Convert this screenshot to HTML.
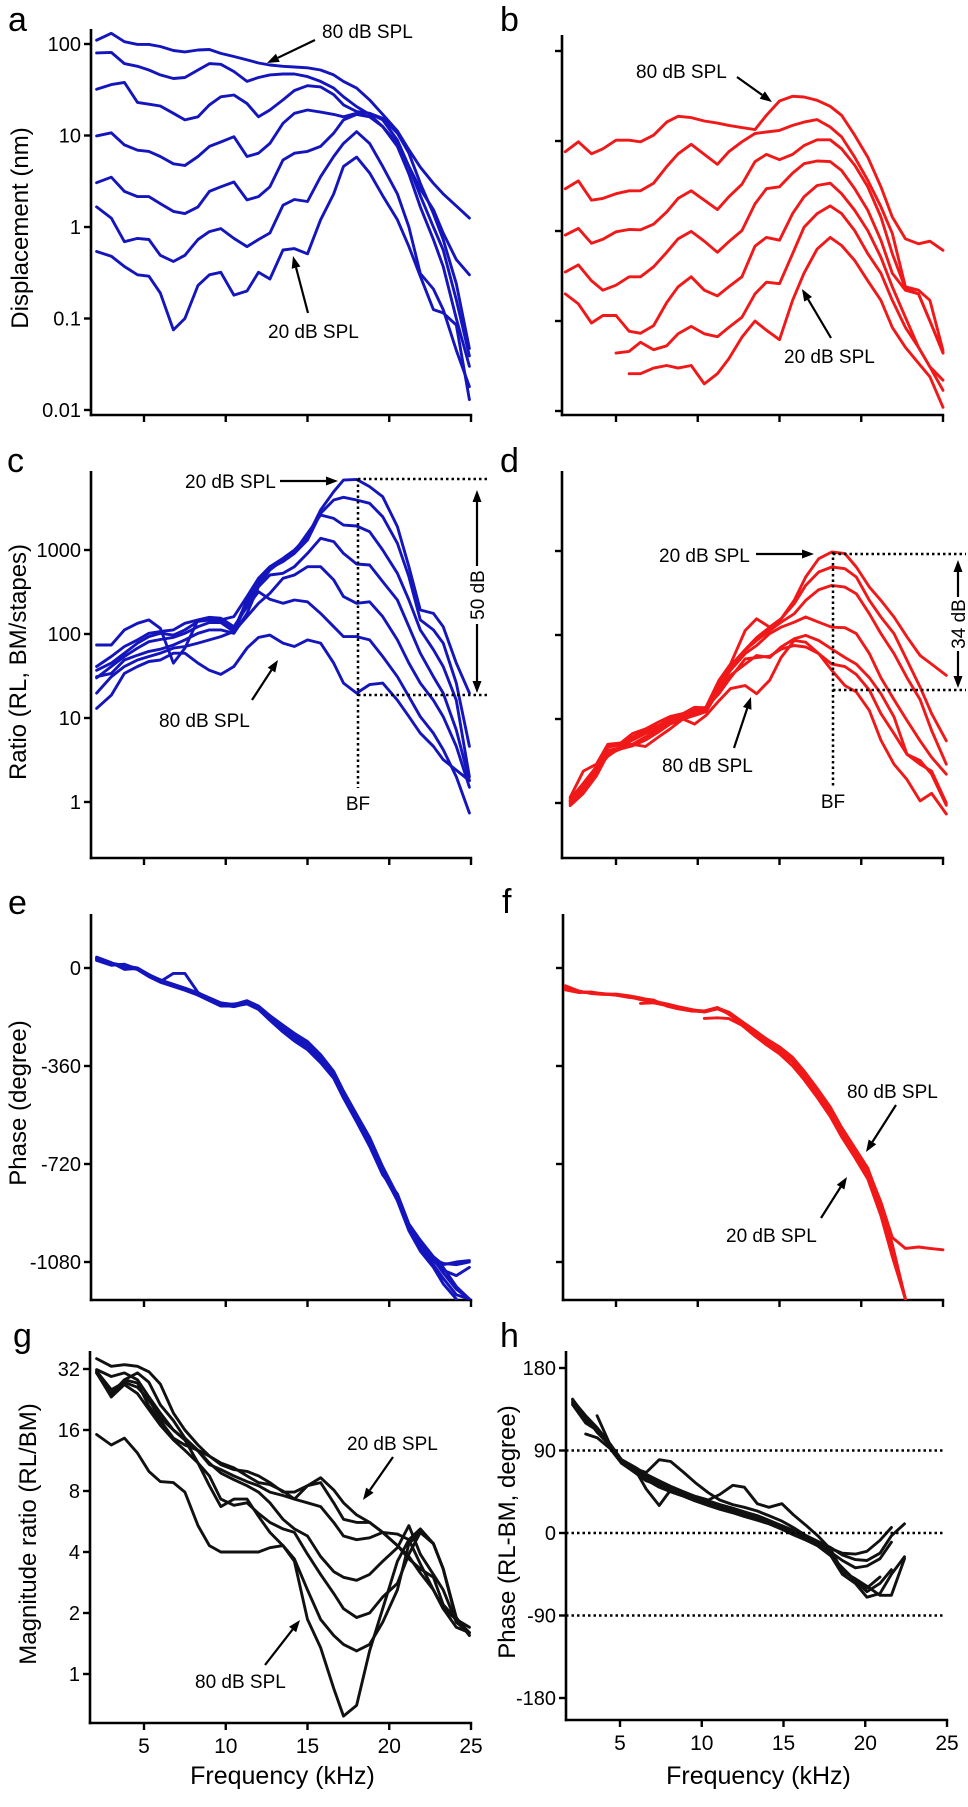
<!DOCTYPE html>
<html><head><meta charset="utf-8"><title>RL and BM responses</title>
<style>
html,body{margin:0;padding:0;background:#fff;}
svg{display:block;font-family:"Liberation Sans",Arial,sans-serif;}
</style></head>
<body>
<svg id="chart" width="968" height="1807" viewBox="0 0 968 1807" xmlns="http://www.w3.org/2000/svg">
<defs>
<clipPath id="clipA"><rect x="91" y="20" width="390" height="397"/></clipPath>
<clipPath id="clipB"><rect x="562" y="20" width="390" height="397"/></clipPath>
<clipPath id="clipC"><rect x="91" y="460" width="390" height="400"/></clipPath>
<clipPath id="clipD"><rect x="562" y="460" width="390" height="400"/></clipPath>
<clipPath id="clipE"><rect x="91" y="905" width="390" height="395"/></clipPath>
<clipPath id="clipF"><rect x="563" y="905" width="390" height="395"/></clipPath>
<clipPath id="clipG"><rect x="90" y="1340" width="390" height="383"/></clipPath>
<clipPath id="clipH"><rect x="566" y="1340" width="390" height="380"/></clipPath>
</defs>
</svg>
<script>
// ---------- data ----------
const freqA = [2.1,3.0,3.8,4.6,5.3,6.0,6.8,7.5,8.3,9.0,9.7,10.5,11.3,12.0,12.7,13.5,14.2,15.0,15.8,16.6,17.2,18.0,18.8,19.6,20.5,21.2,21.9,22.7,23.3,24.1,24.9];
const freqB = [1.9,2.7,3.5,4.2,5.0,5.8,6.5,7.3,8.1,8.8,9.6,10.4,11.2,11.9,12.7,13.5,14.2,15.0,15.8,16.5,17.3,18.1,18.8,19.6,20.4,21.2,21.9,22.7,23.5,24.2,25.0];
const freqD = [2.2,3.0,3.8,4.5,5.3,6.0,6.8,7.6,8.3,9.1,9.8,10.5,11.3,12.0,12.9,13.6,14.4,15.1,15.9,16.6,17.4,18.2,19.0,19.7,20.5,21.2,22.0,22.8,23.6,24.3,25.2];
const freqH = [2.1,2.9,3.6,4.4,5.1,5.9,6.6,7.4,8.1,8.9,9.6,10.4,11.1,11.9,12.6,13.4,14.1,14.9,15.6,16.4,17.1,17.9,18.6,19.4,20.1,20.9,21.6,22.4];
const xTicks = [5,10,15,20,25];
const xTickLabels = ["5","10","15","20","25"];

// a: displacement (nm), 80 dB -> 20 dB
const dispBlue80 = [110,131,106,99,99,94,85,82,86,87,79,73,67,62,59,57,56,55,52,46,39,33,24.5,17,11.2,7,4.5,3,2.3,1.7,1.25];
const dispBlue70 = [80,81,61,57,52,46,42,43,52,61,60,50,39,43,46,47,47,44,39,33,26.5,20.7,17,12.5,8.2,4.6,2.6,1.55,0.86,0.44,0.30];
const dispBlue60 = [32,36,38,23,22,21,17.5,14.8,16,21.6,26.5,27.7,22.4,16,19,24.5,31,35,34,28,21.6,18.3,17.5,15.4,10.6,6.4,3.0,1.4,0.73,0.24,0.047];
const dispBlue50 = [9.9,10.7,7.9,6.9,6.7,5.9,4.9,4.7,5.9,7.6,8.5,9.7,5.9,6.4,8.2,13.6,17.5,19,18,17,16,17.5,17.5,14.8,8.9,4.6,2.2,1.0,0.56,0.16,0.039];
const dispBlue40 = [3.05,3.5,2.45,2.15,2.15,1.8,1.48,1.4,1.66,2.45,2.75,3.1,1.98,2.15,2.75,5.4,6.4,6.7,7.6,10.6,14.8,17,16,12.5,7.6,3.8,1.66,0.73,0.37,0.10,0.030];
const dispBlue30 = [1.66,1.25,0.69,0.75,0.73,0.49,0.42,0.49,0.73,0.89,0.96,0.75,0.61,0.73,0.86,1.73,2.0,1.9,3.55,5.9,8.2,11,8.2,4.6,2.3,1.0,0.31,0.21,0.125,0.045,0.018];
const dispBlue20 = [0.54,0.48,0.37,0.30,0.29,0.19,0.075,0.10,0.23,0.30,0.32,0.18,0.20,0.32,0.27,0.56,0.58,0.51,1.2,2.3,4.6,5.8,3.9,2.2,1.2,0.61,0.29,0.125,0.115,0.085,0.013];

// b
const dispRed80 = [7.6,9.8,7.2,8.2,10.2,10.2,9.8,11.6,16.2,18.8,18.2,16.7,15.8,14.9,14.1,13.4,19.3,27.8,31.4,30.8,28.3,24.3,19.3,11.6,6.6,3.1,1.43,0.82,0.72,0.77,0.61];
const dispRed70 = [2.95,3.6,2.2,2.3,2.6,2.8,2.8,3.4,5.2,7.2,9.2,7.1,5.5,7.6,9.8,12.1,12.6,13.1,14.9,16.2,17.3,14.3,11.1,6.6,3.65,1.86,0.94,0.24,0.22,0.17,0.047];
const dispRed60 = [0.90,1.07,0.73,0.81,0.98,1.04,1.03,1.19,1.63,2.3,2.8,2.2,1.73,2.4,3.3,5.9,7.1,6.2,7.1,8.9,10.3,10.3,8.2,5.4,3.1,1.43,0.56,0.23,0.2,0.10,0.045];
const dispRed50 = [0.35,0.42,0.28,0.22,0.25,0.31,0.31,0.40,0.58,0.82,0.99,0.77,0.58,0.76,1.01,2.0,2.95,3.1,4.4,5.6,6.0,5.9,4.7,2.95,1.7,0.79,0.34,0.22,0.2,0.10,0.044];
const dispRed40 = [0.2,0.155,0.095,0.115,0.115,0.077,0.073,0.089,0.16,0.24,0.31,0.22,0.19,0.24,0.31,0.68,0.85,0.79,1.56,2.4,3.2,3.4,2.6,1.7,1.01,0.51,0.24,0.11,0.051,0.031,0.022];
const dispRed30 = [null,null,null,null,0.044,0.046,0.058,0.048,0.053,0.072,0.087,0.072,0.067,0.085,0.11,0.2,0.27,0.26,0.56,1.1,1.56,1.9,1.56,1.01,0.56,0.34,0.17,0.085,0.051,0.031,0.017];
const dispRed20 = [null,null,null,null,null,0.026,0.026,0.030,0.032,0.030,0.032,0.020,0.026,0.038,0.066,0.10,0.079,0.062,0.17,0.34,0.63,0.85,0.69,0.47,0.28,0.17,0.085,0.051,0.034,0.024,0.011];

// c: ratio RL/stapes, 20 dB -> 80 dB
const ratioBlue20 = [41,54,71,85,102,107,112,134,147,154,147,161,279,460,633,796,1000,1440,2990,4950,6800,6930,5680,4310,1900,633,193,176,122,45,19.8];
const ratioBlue30 = [37,45,59,78,93,102,97,112,141,147,141,112,254,420,605,727,912,1315,2730,3940,4240,3940,3600,2490,1200,481,147,112,78,26,4.6];
const ratioBlue40 = [30,41,54,68,81,86,91,102,122,137,137,107,232,383,578,760,955,1580,2610,2380,1980,1930,1650,1000,528,254,112,65,41,16.3,2.0];
const ratioBlue50 = [31,34,49,56,62,66,74,85,102,112,112,102,176,366,504,528,633,912,1380,1260,912,681,663,420,254,122,59,31,19.8,7.2,1.8];
const ratioBlue60 = [19.8,31,41,49,54,59,68,71,78,85,93,107,161,232,305,460,504,633,633,440,279,232,242,161,85,45,26,16.3,10.4,4.6,1.5];
const ratioBlue70 = [74,74,112,134,147,117,45,68,147,158,154,122,211,319,259,232,254,242,176,122,93,93,85,54,31,18,10.4,6.6,4.2,2.0,0.74];
const ratioBlue80 = [13,18.7,34,41,47,49,59,59,45,37,33,41,68,91,97,78,71,85,78,45,26,19.8,25,26,16.3,10.4,6.6,4.6,3.2,2.4,1.8];

// d
const ratioRed20 = [1.12,1.71,2.7,3.8,4.8,6.1,7.3,8.4,10.0,11.6,12.7,13.8,29,45,113,156,124,156,258,490,810,973,930,645,372,258,164,95,57,45,33];
const ratioRed30 = [1.06,1.55,2.5,3.6,4.6,5.8,7.0,8.2,9.8,11.3,12.4,13.6,27.5,43,67,93,124,156,236,390,562,645,615,490,258,164,104,50,24,11.6,5.5];
const ratioRed40 = [1.03,1.5,2.6,4.6,5.0,5.6,6.7,7.6,9.4,11.0,12.0,13.2,26,42,66,86,113,142,179,258,345,390,372,310,179,104,60,31,17,7.3,2.9];
const ratioRed50 = [0.98,1.4,2.2,4.2,4.6,5.0,6.1,7.3,9.2,10.6,11.6,12.6,24,38,60,75,104,124,142,164,142,124,122,104,60,31,17,9.6,5.5,3.5,2.2];
const ratioRed60 = [0.93,1.3,2.1,3.8,4.4,4.8,5.6,7.0,8.7,10,11,12.2,22,33,45,57,54,72,90,99,86,68,54,45,31,20,10.6,3.8,3.2,2.2,0.94];
const ratioRed70 = [1.17,2.4,2.9,5.0,5.2,6.7,7.6,9.2,10.7,11.6,13.8,13.6,20,31,52,54,56,68,75,72,60,45,42,34,22,11.6,6.7,3.8,2.9,2.4,1.0];
const ratioRed80 = [1.06,1.71,2.7,4.6,5.2,5.0,4.7,6.1,7.6,10,8.7,11,16.5,23,25,20,29,54,86,82,60,38,25,21,12.6,5.6,2.9,1.9,1.06,1.3,0.74];

// e: phase (deg)
const phaseBlue1 = [34,16,10,-2,-27,-45,-63,-76,-94,-112,-131,-137,-124,-143,-179,-216,-247,-277,-326,-387,-460,-546,-631,-741,-838,-950,-1000,-1060,-1090,-1080,-1075];
const phaseBlue2 = [28,10,14,-4,-25,-48,-66,-80,-98,-118,-138,-132,-128,-150,-185,-222,-255,-285,-333,-392,-468,-552,-640,-748,-845,-945,-1010,-1070,-1085,-1090,-1080];
const phaseBlue3 = [40,20,-5,-2,-30,-50,-20,-20,-90,-115,-135,-142,-130,-148,-190,-230,-262,-290,-340,-400,-475,-560,-648,-755,-852,-955,-1020,-1075,-1110,-1130,-1100];
const phaseBlue4 = [30,12,8,-6,-32,-52,-68,-82,-100,-120,-140,-140,-132,-152,-192,-235,-268,-300,-348,-405,-478,-565,-655,-760,-830,-940,-1000,-1065,-1100,-1170,-1216];
const phaseBlue5 = [38,18,6,0,-24,-44,-60,-74,-92,-110,-128,-135,-122,-140,-176,-212,-242,-272,-320,-382,-455,-540,-625,-735,-850,-960,-1030,-1090,-1140,-1200,-1216];
const phaseBlue6 = [32,14,12,-4,-28,-46,-64,-78,-96,-114,-133,-139,-126,-146,-182,-220,-252,-282,-330,-392,-465,-550,-638,-748,-855,-965,-1040,-1100,-1160,-1216,null];
const phaseBlue7 = [36,18,8,0,-26,-43,-62,-74,-92,-110,-129,-134,-120,-140,-175,-210,-240,-270,-318,-380,-452,-538,-622,-730,-835,-945,-1005,-1070,-1120,-1180,-1216];

// f
const phaseRed1 = [-70,-86,-92,-95,-98,-105,-115,-125,-135,-145,-155,-160,-148,-165,-200,-235,-265,-295,-335,-385,-450,-520,-595,-670,-745,-880,-1030,-1216,null,null,null];
const phaseRed2 = [-80,-90,-88,-96,-100,-108,-112,-118,-140,-150,-158,-158,-145,-170,-205,-242,-272,-305,-345,-395,-462,-535,-610,-688,-765,-900,-1050,-1216,null,null,null];
const phaseRed3 = [-65,-84,-94,-97,-96,-102,-110,-122,-132,-142,-152,-162,-150,-162,-196,-230,-260,-290,-328,-378,-442,-510,-585,-660,-735,-868,-1015,-1216,null,null,null];
const phaseRed4 = [null,null,null,null,null,null,-130,-128,-138,-148,-158,-160,-150,-168,-202,-238,-268,-300,-340,-390,-455,-528,-602,-680,-755,-890,-1040,-1216,null,null,null];
const phaseRed5 = [null,null,null,null,null,null,null,null,null,null,null,-185,-183,-186,-210,-250,-282,-315,-360,-410,-475,-545,-620,-695,-775,-910,-1060,-1216,null,null,null];
const phaseRed6 = [-75,-88,-90,-94,-99,-104,-114,-124,-134,-144,-154,-158,-146,-163,-198,-232,-262,-292,-332,-382,-447,-517,-590,-665,-740,-860,-990,-1030,-1025,-1030,-1035];
const phaseRed7 = [-78,-87,-91,-95,-97,-106,-116,-126,-136,-146,-156,-161,-149,-166,-202,-238,-268,-298,-338,-390,-455,-525,-600,-678,-752,-890,-1045,-1216,null,null,null];

// g: magnitude ratio RL/BM
const magRatio20 = [36,33,33.6,33,31,27,19.4,16,13.5,11.9,11,10.4,9.5,8.8,8.6,8.0,7.3,8.5,9.3,8.1,7.0,6.1,5.6,5.0,4.3,3.8,3.15,2.6,2.1,1.86,1.7];
const magRatio30 = [30.6,23.3,28.3,30.6,27.5,21.3,17.8,14.6,12.7,11.9,10.8,10.2,10.0,9.5,8.8,7.9,7.9,8.5,8.8,7.0,5.8,5.6,5.6,5.0,4.3,3.7,3.3,3.0,2.2,1.86,1.6];
const magRatio40 = [31.2,25.3,27.5,26,22.5,18.4,16,14.3,12.6,10.8,10.2,9.5,8.9,8.5,7.9,7.6,7.3,7.0,6.7,5.6,4.8,4.6,4.7,5.0,4.9,4.6,3.5,2.6,2.1,1.7,1.6];
const magRatio50 = [30.6,24.2,28.3,27.3,21,17.8,14.6,13.5,12.7,11,9.8,9.1,8.5,7.9,7.0,5.8,5.2,4.8,3.8,3.2,3.0,2.9,3.1,3.6,4.2,5.4,3.9,3.1,2.6,1.8,1.6];
const magRatio60 = [31.2,23.3,26.8,24.2,20.2,16.9,14.3,12.7,11,9.5,7.3,6.8,7.0,6.2,5.6,5.2,5.0,3.9,3.1,2.5,2.1,1.9,2.0,2.4,2.8,3.9,5.0,4.4,3.3,1.86,1.6];
const magRatio70 = [31.8,29.4,30.6,28.3,23.3,19.4,16,14.3,11,8.5,6.7,7.3,7.3,6.0,5.0,4.3,3.7,2.6,1.86,1.55,1.4,1.3,1.4,1.8,2.6,4.4,5.0,4.4,3.3,1.9,1.55];
const magRatio80 = [15.2,13.5,14.6,12.3,10.0,8.9,8.8,7.9,5.4,4.3,4.0,4.0,4.0,4.0,4.2,4.3,3.6,1.86,1.35,0.85,0.62,0.7,1.3,2.1,3.6,4.6,5.2,4.4,3.3,1.86,1.55];

// h: phase RL-BM (deg)
const relPhase1 = [145,128,115,97,78,70,62,55,49,44,39,35,31,27,23,19,14,8,2,-4,-10,-17,-22,-23,-20,-8,6,null];
const relPhase2 = [146,126,110,95,77,69,60,53,48,43,38,33,29,25,21,17,13,8,3,-3,-9,-16,-24,-29,-30,-22,-3,10];
const relPhase3 = [null,108,104,92,76,66,57,52,45,40,35,31,27,23,20,16,12,6,0,-5,-11,-21,-30,-38,-36,-28,-10,null];
const relPhase4 = [null,null,128,96,76,70,66,80,78,66,55,44,36,31,28,24,19,13,6,-3,-12,-22,-40,-52,-64,-55,-40,null];
const relPhase5 = [140,120,112,96,79,70,48,30,47,44,39,35,31,27,23,18,13,7,0,-7,-14,-25,-45,-55,-70,-66,-45,-26];
const relPhase6 = [142,124,113,97,80,72,64,57,51,45,40,36,42,52,50,32,28,32,20,8,-3,-18,-42,-50,-58,-68,-68,-28];
const relPhase7 = [143,125,112,96,78,68,58,50,45,40,35,30,26,22,18,14,10,4,-2,-8,-14,-25,-38,-52,-60,-48,null,null];

const ticksDisp = [100,10,1,0.1,0.01];
const ticksDispLabels = ["100","10","1","0.1","0.01"];
const ticksRatio = [1000,100,10,1];
const ticksRatioLabels = ["1000","100","10","1"];
const ticksPhase = [0,-360,-720,-1080];
const ticksPhaseLabels = ["0","-360","-720","-1080"];
const ticksMag = [32,16,8,4,2,1];
const ticksMagLabels = ["32","16","8","4","2","1"];
const ticksRel = [180,90,0,-90,-180];
const ticksRelLabels = ["180","90","0","-90","-180"];
const relRefLines = [90,0,-90];

// ---------- drawing ----------
const NS = "http://www.w3.org/2000/svg";
const svg = document.getElementById('chart');
const BLUE = "#1515bd", RED = "#f01818", BLACK = "#111";

function mk(tag, name, parent) {
  const el = document.createElementNS(NS, tag);
  
  
  (parent || svg).appendChild(el);
  return el;
}
function set(el, o) { for (const k in o) el.setAttribute(k, o[k]); return el; }
function txt(s, x, y, size, name, anchor, parent) {
  const t = mk('text', name, parent);
  set(t, {x: x, y: y, 'font-size': size, 'text-anchor': anchor || 'start', fill: '#000'});
  t.textContent = s;
  return t;
}
function line(x1, y1, x2, y2, name, w, dash, parent) {
  const l = mk('line', name, parent);
  set(l, {x1: x1, y1: y1, x2: x2, y2: y2, stroke: '#000', 'stroke-width': w || 2.5});
  if (dash) l.setAttribute('stroke-dasharray', dash);
  return l;
}
function arrow(x1, y1, x2, y2, name) {
  const g = mk('g', name);
  const ang = Math.atan2(y2 - y1, x2 - x1);
  const hl = 12, hw = 4.5;
  const bx = x2 - hl * Math.cos(ang), by = y2 - hl * Math.sin(ang);
  line(x1, y1, bx, by, name + '-shaft', 2.2, null, g);
  const p = mk('polygon', name + '-head', g);
  const px = -Math.sin(ang) * hw, py = Math.cos(ang) * hw;
  set(p, {points: `${x2},${y2} ${bx + px},${by + py} ${bx - px},${by - py}`, fill: '#000'});
  return g;
}

function makePanel(cfg) {
  const g = mk('g', 'panel-' + cfg.id);
  txt(cfg.id, cfg.letterX, cfg.letterY, 34, 'panel-label-' + cfg.id, 'start', g);
  line(cfg.axisX, cfg.top, cfg.axisX, cfg.bottom + 1.2, 'y-axis-' + cfg.id, 2.6, null, g);
  line(cfg.axisX - 1.2, cfg.bottom, cfg.x(25) + 1.2, cfg.bottom, 'x-axis-' + cfg.id, 2.6, null, g);
  xTicks.forEach((f, i) => {
    line(cfg.x(f), cfg.bottom, cfg.x(f), cfg.bottom + 7, 'x-tick-' + cfg.id, 2.4, null, g);
    if (cfg.xLabels) txt(xTickLabels[i], cfg.x(f), cfg.bottom + 30, 21, 'x-tick-label', 'middle', g);
  });
  cfg.yTicks.forEach((v, i) => {
    const y = cfg.y(v);
    line(cfg.axisX - 7, y, cfg.axisX, y, 'y-tick-' + cfg.id, 2.4, null, g);
    if (cfg.yLabels) txt(cfg.yLabels[i], cfg.axisX - 10, y + 7, 20, 'y-tick-label', 'end', g);
  });
  if (cfg.yTitle) {
    const t = txt(cfg.yTitle, 0, 0, 24, 'y-axis-title-' + cfg.id, 'middle', g);
    t.setAttribute('transform', `translate(${cfg.yTitleX},${cfg.yTitleY}) rotate(-90)`);
  }
  if (cfg.xLabels) txt('Frequency (kHz)', (cfg.axisX + cfg.x(25)) / 2 + 2, 1784, 25, 'x-axis-title-' + cfg.id, 'middle', g);
  const sg = mk('g', 'series-group-' + cfg.id, g);
  sg.setAttribute('clip-path', 'url(#' + cfg.clip + ')');
  cfg.series.forEach((vals, si) => {
    let d = '', pen = false;
    vals.forEach((v, i) => {
      if (v === null || v === undefined) { pen = false; return; }
      const px = cfg.x(cfg.freq[i]).toFixed(1), py = cfg.y(v).toFixed(1);
      d += (pen ? 'L' : 'M') + px + ',' + py;
      pen = true;
    });
    const p = mk('path', cfg.id + '-curve-' + cfg.seriesNames[si], sg);
    set(p, {d: d, fill: 'none', stroke: cfg.color, 'stroke-width': 2.9, 'stroke-linejoin': 'round', 'stroke-linecap': 'round'});
  });
  return g;
}

const xL = f => 144 + (f - 5) * 16.35;
const xR = f => 616 + (f - 5) * 16.35;
const xRh = f => 620 + (f - 5) * 16.35;
const lg = Math.log10, l2 = Math.log2;
const spl7 = ['80dB','70dB','60dB','50dB','40dB','30dB','20dB'];
const spl7r = ['20dB','30dB','40dB','50dB','60dB','70dB','80dB'];
const num7 = ['1','2','3','4','5','6','7'];

makePanel({id:'a', letterX:8, letterY:31, axisX:91, top:29, bottom:415, x:xL, y:v => 44 + (2 - lg(v)) * 91.5,
  yTicks:ticksDisp, yLabels:ticksDispLabels, yTitle:'Displacement (nm)', yTitleX:28, yTitleY:228, clip:'clipA',
  freq:freqA, color:BLUE, seriesNames:spl7,
  series:[dispBlue80,dispBlue70,dispBlue60,dispBlue50,dispBlue40,dispBlue30,dispBlue20]});
makePanel({id:'b', letterX:500, letterY:31, axisX:562, top:35, bottom:415, x:xR, y:v => 51 + (2 - lg(v)) * 90,
  yTicks:ticksDisp, clip:'clipB', freq:freqB, color:RED, seriesNames:spl7,
  series:[dispRed80,dispRed70,dispRed60,dispRed50,dispRed40,dispRed30,dispRed20]});
makePanel({id:'c', letterX:7, letterY:472, axisX:91, top:471, bottom:858, x:xL, y:v => 550 + (3 - lg(v)) * 84,
  yTicks:ticksRatio, yLabels:ticksRatioLabels, yTitle:'Ratio (RL, BM/stapes)', yTitleX:26, yTitleY:662, clip:'clipC',
  freq:freqA, color:BLUE, seriesNames:spl7r,
  series:[ratioBlue20,ratioBlue30,ratioBlue40,ratioBlue50,ratioBlue60,ratioBlue70,ratioBlue80]});
makePanel({id:'d', letterX:500, letterY:472, axisX:562, top:471, bottom:858, x:xR, y:v => 551 + (3 - lg(v)) * 84,
  yTicks:ticksRatio, clip:'clipD', freq:freqD, color:RED, seriesNames:spl7r,
  series:[ratioRed20,ratioRed30,ratioRed40,ratioRed50,ratioRed60,ratioRed70,ratioRed80]});
makePanel({id:'e', letterX:8, letterY:914, axisX:91, top:914, bottom:1300, x:xL, y:v => 968 - v * 98 / 360,
  yTicks:ticksPhase, yLabels:ticksPhaseLabels, yTitle:'Phase (degree)', yTitleX:26, yTitleY:1103, clip:'clipE',
  freq:freqA, color:BLUE, seriesNames:num7,
  series:[phaseBlue1,phaseBlue2,phaseBlue3,phaseBlue4,phaseBlue5,phaseBlue6,phaseBlue7]});
makePanel({id:'f', letterX:502, letterY:913, axisX:563, top:914, bottom:1300, x:xR, y:v => 968 - v * 98 / 360,
  yTicks:ticksPhase, clip:'clipF', freq:freqB, color:RED, seriesNames:num7,
  series:[phaseRed1,phaseRed2,phaseRed3,phaseRed4,phaseRed5,phaseRed6,phaseRed7]});
makePanel({id:'g', letterX:13, letterY:1347, axisX:90, top:1351, bottom:1723, x:xL, y:v => 1369 + (5 - l2(v)) * 61,
  yTicks:ticksMag, yLabels:ticksMagLabels, yTitle:'Magnitude ratio (RL/BM)', yTitleX:36, yTitleY:1534, clip:'clipG',
  freq:freqA, color:BLACK, seriesNames:spl7r, xLabels:true,
  series:[magRatio20,magRatio30,magRatio40,magRatio50,magRatio60,magRatio70,magRatio80]});
const yH = v => 1368 + (180 - v) * 330 / 360;
makePanel({id:'h', letterX:500, letterY:1347, axisX:566, top:1351, bottom:1720, x:xRh, y:yH,
  yTicks:ticksRel, yLabels:ticksRelLabels, yTitle:'Phase (RL-BM, degree)', yTitleX:515, yTitleY:1532, clip:'clipH',
  freq:freqH, color:BLACK, seriesNames:num7, xLabels:true,
  series:[relPhase1,relPhase2,relPhase3,relPhase4,relPhase5,relPhase6,relPhase7]});

relRefLines.forEach(v => line(566, yH(v), 944, yH(v), 'reference-line-' + v, 2.5, '2.5,3'));

// ---------- annotations ----------
txt('80 dB SPL', 322, 38, 19, 'label-80db-a');
arrow(315, 40, 267, 63, 'arrow-80db-a');
txt('20 dB SPL', 268, 338, 19, 'label-20db-a');
arrow(308, 313, 293, 256, 'arrow-20db-a');

txt('80 dB SPL', 636, 78, 19, 'label-80db-b');
arrow(737, 77, 772, 102, 'arrow-80db-b');
txt('20 dB SPL', 784, 363, 19, 'label-20db-b');
arrow(831, 338, 802, 289, 'arrow-20db-b');

// c
txt('20 dB SPL', 185, 488, 19, 'label-20db-c');
arrow(280, 481, 338, 481, 'arrow-20db-c');
txt('80 dB SPL', 159, 727, 19, 'label-80db-c');
arrow(252, 700, 278, 660, 'arrow-80db-c');
line(358, 479, 358, 788, 'bf-line-c', 2.5, '2.5,3');
line(358, 479, 488, 479, 'peak-line-c', 2.5, '2.5,3');
line(358, 695, 488, 695, 'level-line-c', 2.5, '2.5,3');
txt('BF', 358, 810, 19, 'bf-label-c', 'middle');
arrow(477, 566, 477, 490, 'arrow-50db-up');
arrow(477, 624, 477, 693, 'arrow-50db-down');
(function(){ const t = txt('50 dB', 0, 0, 19, 'label-50db', 'middle'); t.setAttribute('transform', 'translate(484,595) rotate(-90)'); })();

// d
txt('20 dB SPL', 659, 562, 19, 'label-20db-d');
arrow(756, 554, 814, 554, 'arrow-20db-d');
txt('80 dB SPL', 662, 772, 19, 'label-80db-d');
arrow(734, 748, 751, 697, 'arrow-80db-d');
line(833, 552, 833, 788, 'bf-line-d', 2.5, '2.5,3');
line(833, 554, 966, 554, 'peak-line-d', 2.5, '2.5,3');
line(833, 690, 966, 690, 'level-line-d', 2.5, '2.5,3');
txt('BF', 833, 808, 19, 'bf-label-d', 'middle');
arrow(958, 597, 958, 560, 'arrow-34db-up');
arrow(958, 651, 958, 688, 'arrow-34db-down');
(function(){ const t = txt('34 dB', 0, 0, 19, 'label-34db', 'middle'); t.setAttribute('transform', 'translate(965,624) rotate(-90)'); })();

// f
txt('80 dB SPL', 847, 1098, 19, 'label-80db-f');
arrow(896, 1105, 866, 1152, 'arrow-80db-f');
txt('20 dB SPL', 726, 1242, 19, 'label-20db-f');
arrow(821, 1218, 847, 1177, 'arrow-20db-f');

// g
txt('20 dB SPL', 347, 1450, 19, 'label-20db-g');
arrow(393, 1457, 363, 1500, 'arrow-20db-g');
txt('80 dB SPL', 195, 1688, 19, 'label-80db-g');
arrow(265, 1665, 300, 1620, 'arrow-80db-g');
</script>
</body></html>
